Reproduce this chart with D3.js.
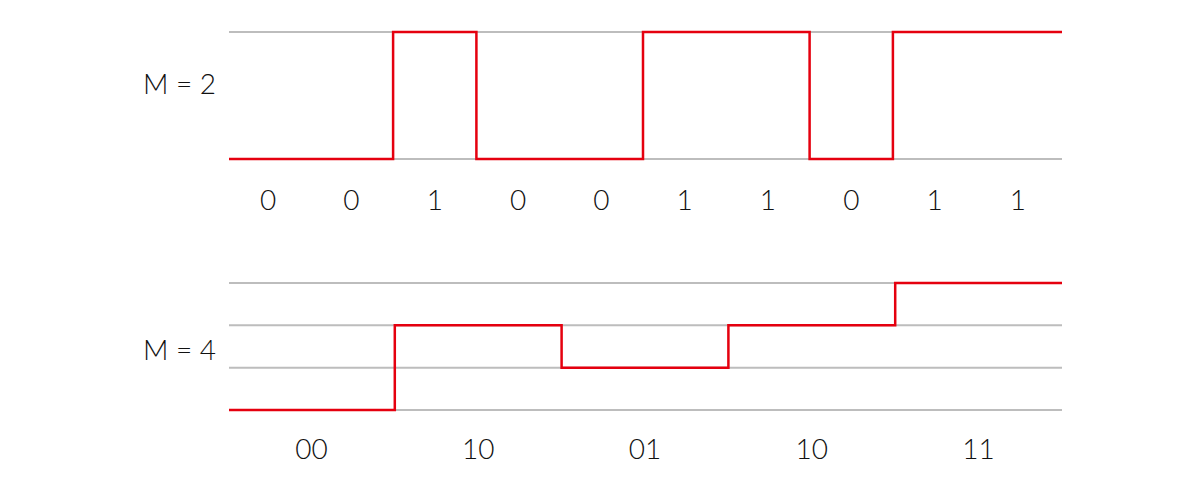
<!DOCTYPE html>
<html>
<head>
<meta charset="utf-8">
<script src="https://cdn.jsdelivr.net/npm/d3@7"></script>
<style>
  html, body { margin: 0; padding: 0; background: #fff; }
  svg { display: block; }
  text { font-family: "Lato", "Noto Sans", sans-serif; font-weight: 300; fill: #111; }
</style>
</head>
<body>
<svg id="chart" width="1200" height="500"></svg>
<script>
// ---- data ----
const bitLabelsM2 = ["0","0","1","0","0","1","1","0","1","1"];
const levelsM2 = [0,0,1,0,0,1,1,0,1,1];
const symbolLabelsM4 = ["00","10","01","10","11"];
const levelsM4 = [0,2,1,2,3];
const panelTitles = ["M = 2", "M = 4"];

const svg = d3.select("#chart");
const red = "#e5000f";
const gridColor = "#bdbdbd";
const plotLeft = 229, plotRight = 1062;

function panel(levels, labels, nLevels, xStart, xEnd, yTop, yBottom, labelY, titleY, title) {
  const n = levels.length;
  const x = d3.scaleLinear().domain([0, n]).range([xStart, xEnd]);
  const y = d3.scaleLinear().domain([0, nLevels - 1]).range([yBottom, yTop]);
  const g = svg.append("g");

  // gridlines
  g.selectAll("line.grid")
    .data(d3.range(nLevels))
    .join("line")
    .attr("class", "grid")
    .attr("x1", plotLeft).attr("x2", plotRight)
    .attr("y1", d => y(d)).attr("y2", d => y(d))
    .attr("stroke", gridColor)
    .attr("stroke-width", 2);

  // waveform (ends stretched to the plot edges)
  const pts = levels.map((v, i) => [i, v]);
  pts.push([n, levels[n - 1]]);
  const line = d3.line()
    .x(d => d[0] === 0 ? plotLeft : d[0] === n ? plotRight : x(d[0]))
    .y(d => y(d[1]))
    .curve(d3.curveStepAfter);
  g.append("path")
    .attr("d", line(pts))
    .attr("fill", "none")
    .attr("stroke", red)
    .attr("stroke-width", 2.5)
    .attr("stroke-linejoin", "miter");

  // symbol labels
  g.selectAll("text.sym")
    .data(labels)
    .join("text")
    .attr("class", "sym")
    .attr("x", (d, i) => x(i + 0.5))
    .attr("y", labelY)
    .attr("text-anchor", "middle")
    .attr("dominant-baseline", "central")
    .attr("font-size", 28)
    .text(d => d);

  // title
  g.append("text")
    .attr("x", 216)
    .attr("y", titleY)
    .attr("text-anchor", "end")
    .attr("dominant-baseline", "central")
    .attr("font-size", 28)
    .text(title);
}

panel(levelsM2, bitLabelsM2, 2, 226.5, 1059.5, 32, 159, 199, 83, panelTitles[0]);
panel(levelsM4, symbolLabelsM4, 4, 228, 1062, 283, 410, 448, 349, panelTitles[1]);
</script>
</body>
</html>
